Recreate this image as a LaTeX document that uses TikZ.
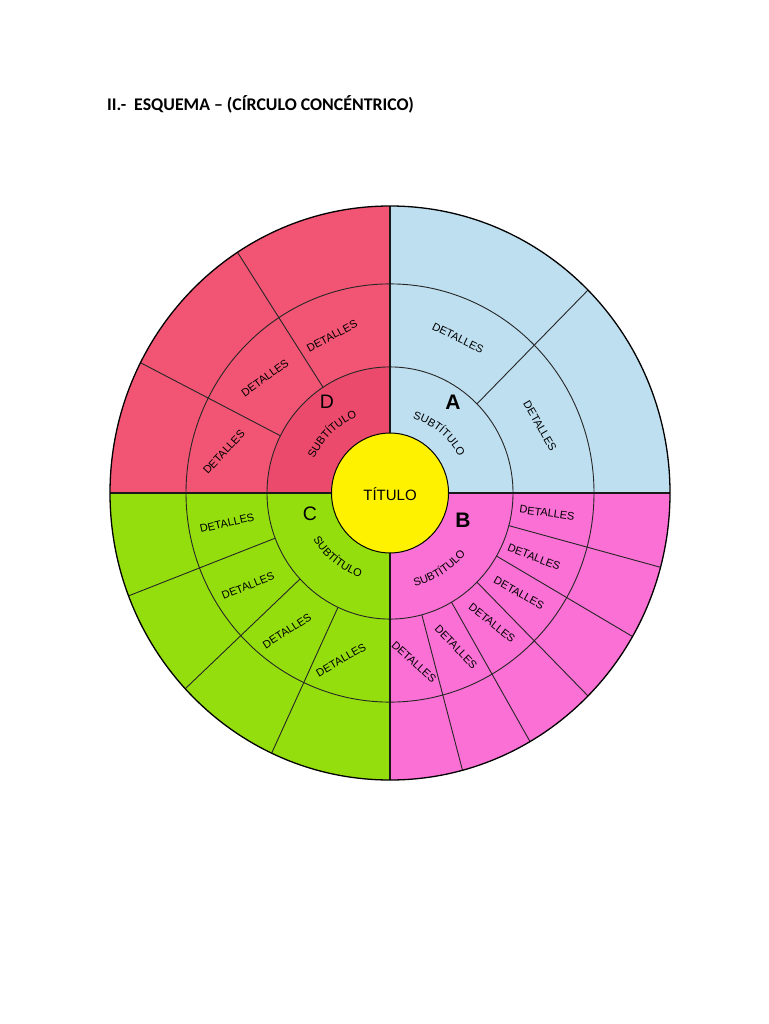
\documentclass[tikz,border=0pt]{standalone}
\usepackage{fontspec}
\usetikzlibrary{decorations.text}
\newfontfamily\titlefont{Carlito}
\newfontfamily\lblfont{Liberation Sans}
\definecolor{colA}{HTML}{BEDFF0}
\definecolor{colD}{HTML}{F25473}
\definecolor{colDin}{HTML}{EC4A6C}
\definecolor{colC}{HTML}{94DE0E}
\definecolor{colB}{HTML}{FA70D4}
\definecolor{yel}{HTML}{FFF200}
\begin{document}
\begin{tikzpicture}[x=1pt,y=1pt,
  det/.style={font=\lblfont\fontsize{11}{13}\selectfont, inner sep=0pt},
  letter/.style={font=\lblfont\fontsize{19.5}{22}\selectfont, inner sep=0pt},
  bletter/.style={font=\lblfont\bfseries\fontsize{21}{24}\selectfont, inner sep=0pt},
  seg/.style={line width=0.9pt, draw=black!85},
  axisline/.style={line width=1.3pt, draw=black!90},
  subarc/.style={decorate, decoration={text along path, text align=center,
     text={|\lblfont\fontsize{11}{13}\selectfont|SUBTÍTULO}}}]
\useasboundingbox (0,0) rectangle (768,-1024);
\node[font=\titlefont\bfseries\fontsize{17.8}{21}\selectfont, anchor=base west, inner sep=0pt] (title) at (107,-111) {II.-\ \ ESQUEMA – (CÍRCULO CONCÉNTRICO)};
\begin{scope}[shift={(390,-493)}, yscale=1.025]
  \fill[colA] (0,0) -- (0:280) arc[start angle=0,end angle=90,radius=280] -- cycle;
  \fill[colD] (0,0) -- (90:280) arc[start angle=90,end angle=180,radius=280] -- cycle;
  \fill[colC] (0,0) -- (180:280) arc[start angle=180,end angle=270,radius=280] -- cycle;
  \fill[colB] (0,0) -- (270:280) arc[start angle=270,end angle=360,radius=280] -- cycle;
  \fill[colDin] (90:58) -- (90:123) arc[start angle=90,end angle=180,radius=123] -- (180:58) arc[start angle=180,end angle=90,radius=58] -- cycle;
  \draw[seg] (0,0) circle[radius=123];
  \draw[seg] (0,0) circle[radius=204];
  \foreach \a in {45,123,153,201,223,245,285,300,315,330,345}
    \draw[seg] (\a:123) -- (\a:280);
  \draw[axisline] (-280,0) -- (280,0);
  \draw[axisline] (0,-280) -- (0,280);
  \draw[line width=1.3pt] (0,0) circle[radius=280];
  \filldraw[fill=yel, draw=black, line width=1pt] (0,0) circle[radius=58.5];
\end{scope}
\coordinate (ctr) at (390,-493);
\node[font=\lblfont\fontsize{15}{17}\selectfont] (titulo) at (390,-494) {TÍTULO};
% subtitles along arcs
\path[subarc] (ctr) ++(86:78) arc[start angle=86, end angle=15, radius=78];
\path[subarc] (ctr) ++(170:83) arc[start angle=170, end angle=99, radius=83];
\path[subarc] (ctr) ++(195:90) arc[start angle=195, end angle=267, radius=90];
\path[subarc] (ctr) ++(268:97) arc[start angle=268, end angle=338, radius=97];
% A
\node[bletter] (la) at (453,-402) {A};
\node[det, rotate=-26] (a1) at (458,-338) {DETALLES};
\node[det, rotate=-60] (a2) at (540,-426) {DETALLES};
% D
\node[letter] (ld) at (327,-402) {D};
\node[det, rotate=28] (d1) at (332,-336) {DETALLES};
\node[det, rotate=36] (d2) at (265,-378) {DETALLES};
\node[det, rotate=47] (d3) at (224,-452) {DETALLES};
% C
\node[letter] (lc) at (310,-514) {C};
\node[det, rotate=13] (c1) at (227,-523) {DETALLES};
\node[det, rotate=22] (c2) at (248,-586) {DETALLES};
\node[det, rotate=33] (c3) at (287,-631) {DETALLES};
\node[det, rotate=30] (c4) at (341,-660) {DETALLES};
% B
\node[bletter] (lb) at (463,-520) {B};
\node[det, rotate=-8] (b1) at (547,-513) {DETALLES};
\node[det, rotate=-21.5] (b2) at (534,-557) {DETALLES};
\node[det, rotate=-29] (b3) at (519,-593) {DETALLES};
\node[det, rotate=-38] (b4) at (492,-623) {DETALLES};
\node[det, rotate=-46] (b5) at (456,-647) {DETALLES};
\node[det, rotate=-42] (b6) at (414,-662) {DETALLES};
\end{tikzpicture}
\end{document}
